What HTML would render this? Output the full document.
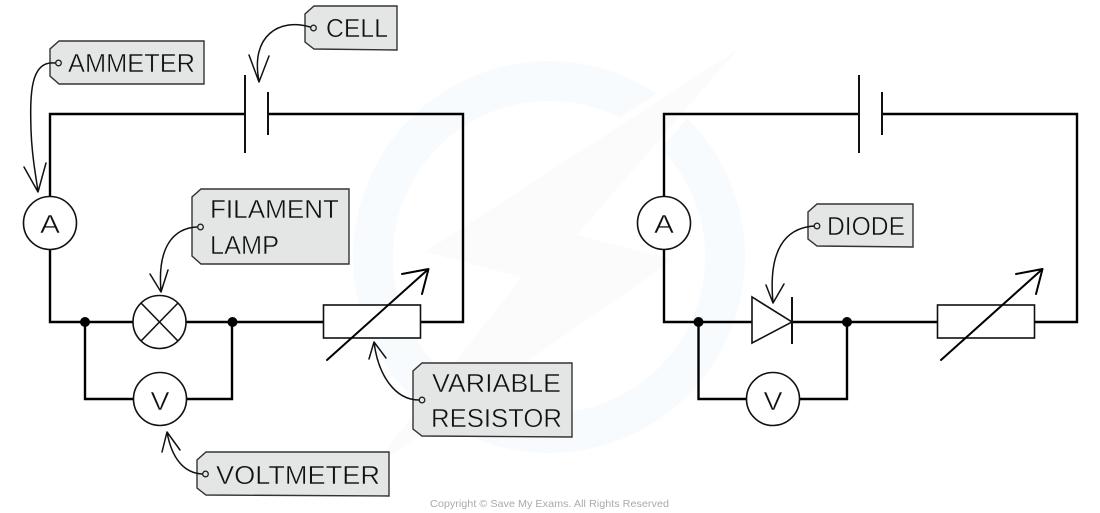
<!DOCTYPE html>
<html>
<head>
<meta charset="utf-8">
<style>
html,body{margin:0;padding:0;background:#fff;width:1100px;height:513px;overflow:hidden}
svg{display:block}
.t{font-family:"Liberation Sans",sans-serif;font-size:26px;fill:#111;stroke:#e4e6e6;stroke-width:.45;paint-order:fill stroke}
.u{font-family:"Liberation Sans",sans-serif;font-size:26px;fill:#111;stroke:#fff;stroke-width:.45;paint-order:fill stroke}
.tag{fill:#e4e6e6;stroke:#333;stroke-width:1.4}
.w{fill:none;stroke:#000;stroke-width:2.4}
.c{fill:#fff;stroke:#111;stroke-width:1.6}
.a{fill:none;stroke:#111;stroke-width:1.5;stroke-linecap:round;stroke-linejoin:round}
.h{fill:#e4e6e6;stroke:#222;stroke-width:1.3}
</style>
</head>
<body>
<svg width="1100" height="513" viewBox="0 0 1100 513" xmlns="http://www.w3.org/2000/svg">
<!-- watermark -->
<circle cx="549" cy="257" r="176" fill="none" stroke="#f8fbfe" stroke-width="40"/>
<polygon points="737,50 425,252 522,277 370,470 673,260 577,235" fill="#fbfbfb" stroke="#fff" stroke-width="14" stroke-linejoin="round"/>
<polygon points="737,50 425,252 522,277 370,470 673,260 577,235" fill="#fbfbfb"/>

<!-- left circuit wires -->
<path class="w" d="M245,114H50V322H323M268,114H463V322H421"/>
<path class="w" d="M85,322V399H232V322"/>
<path d="M245,75V153M268,92V135" fill="none" stroke="#111" stroke-width="2"/>
<circle cx="85" cy="322" r="5" fill="#000"/>
<circle cx="232.500" cy="322" r="5" fill="#000"/>
<circle class="c" cx="50" cy="223" r="26.500"/>
<text class="u" x="40" y="233" textLength="20" lengthAdjust="spacingAndGlyphs">A</text>
<circle class="c" cx="159.500" cy="322" r="26.500"/>
<path d="M141,303L178,341M178,303L141,341" stroke="#111" stroke-width="1.600" fill="none"/>
<circle class="c" cx="160" cy="399" r="26.500"/>
<text class="u" x="150.500" y="410" textLength="19" lengthAdjust="spacingAndGlyphs">V</text>
<rect class="c" x="323.500" y="305" width="97" height="33"/>
<path d="M327,360L428.500,269M402,274L428.500,269L422,294" fill="none" stroke="#000" stroke-width="2" stroke-linejoin="round" stroke-linecap="round"/>

<!-- right circuit wires -->
<path class="w" d="M859,114H664V322H752M792,322H937M882,114H1077V322H1035"/>
<path class="w" d="M698.500,322V399H847V322"/>
<path d="M859,75V153M882,92V135" fill="none" stroke="#111" stroke-width="2"/>
<circle cx="698.500" cy="322" r="5" fill="#000"/>
<circle cx="847" cy="322" r="5" fill="#000"/>
<circle class="c" cx="664" cy="223" r="26.500"/>
<text class="u" x="654" y="233" textLength="20" lengthAdjust="spacingAndGlyphs">A</text>
<polygon class="c" points="752,297 752,343 792,322"/>
<path d="M792,297V344" stroke="#111" stroke-width="2" fill="none"/>
<circle class="c" cx="773" cy="399" r="26.500"/>
<text class="u" x="763.500" y="410" textLength="19" lengthAdjust="spacingAndGlyphs">V</text>
<rect class="c" x="937.500" y="305" width="97" height="33"/>
<path d="M941,360L1042.500,269M1016,274L1042.500,269L1036,294" fill="none" stroke="#000" stroke-width="2" stroke-linejoin="round" stroke-linecap="round"/>

<!-- tags -->
<polygon class="tag" points="59,41 204,41 204,84 59,84 50,76 50,49"/>
<text class="t" x="68" y="72" textLength="127" lengthAdjust="spacingAndGlyphs">AMMETER</text>
<polygon class="tag" points="314,6 397,6 397,50 314,49 305,42 305,14"/>
<text class="t" x="326" y="37" textLength="62" lengthAdjust="spacingAndGlyphs">CELL</text>
<polygon class="tag" points="201,189 349,189 349,264 201,264 192,256 192,197"/>
<text class="t" x="210" y="218" textLength="129" lengthAdjust="spacingAndGlyphs">FILAMENT</text>
<text class="t" x="210" y="254" textLength="69" lengthAdjust="spacingAndGlyphs">LAMP</text>
<polygon class="tag" points="422,363 572,363 572,437 422,436 413,429 413,371"/>
<text class="t" x="432" y="392" textLength="129" lengthAdjust="spacingAndGlyphs">VARIABLE</text>
<text class="t" x="431" y="427" textLength="131" lengthAdjust="spacingAndGlyphs">RESISTOR</text>
<polygon class="tag" points="206,452 389,452 389,496 206,495 197,488 197,460"/>
<text class="t" x="216" y="484" textLength="164" lengthAdjust="spacingAndGlyphs">VOLTMETER</text>
<polygon class="tag" points="817,204 913,204 913,247 817,246 808,239 808,212"/>
<text class="t" x="827" y="235" textLength="78" lengthAdjust="spacingAndGlyphs">DIODE</text>

<!-- callouts -->
<circle class="h" cx="58.500" cy="63" r="2.800"/>
<path class="a" d="M55,63C30,60 30,95 31,130C32,160 36,175 38,192M24,167L38,192L46,163"/>
<circle class="h" cx="313.500" cy="28" r="2.800"/>
<path class="a" d="M310,27C280,18 250,35 259,81M249,55L259,82L269,56"/>
<circle class="h" cx="200.500" cy="227" r="2.800"/>
<path class="a" d="M197,227C175,228 157,245 161,291M150,274L161,292L168,270"/>
<circle class="h" cx="422" cy="400" r="2.800"/>
<path class="a" d="M419,400C395,400 378,375 374,342M369,359L374,342L386,358"/>
<circle class="h" cx="205.500" cy="474" r="2.800"/>
<path class="a" d="M202,474C185,473 172,460 167,432M162,452L167,432L180,450"/>
<circle class="h" cx="817" cy="226" r="2.800"/>
<path class="a" d="M814,226C785,228 768,250 773,303M766,285L773,303L784,284"/>

<text x="430" y="507" font-family="'Liberation Sans',sans-serif" font-size="10.500" fill="#aaaaaa" textLength="239" lengthAdjust="spacingAndGlyphs">Copyright © Save My Exams. All Rights Reserved</text>
</svg>
</body>
</html>
